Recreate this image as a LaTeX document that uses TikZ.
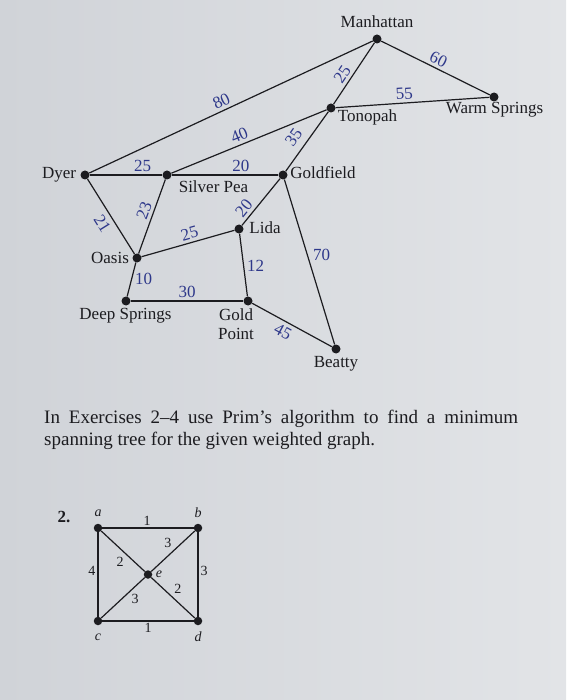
\documentclass[tikz,border=0pt]{standalone}
\usepackage{fontspec}
\setmainfont{Liberation Serif}
\usepackage{xcolor}
\usetikzlibrary{calc}
\usetikzlibrary{positioning}
\definecolor{paperdark}{RGB}{208,211,216}
\definecolor{paperlight}{RGB}{226,228,231}
\definecolor{ink}{RGB}{28,28,32}
\definecolor{pen}{RGB}{46,56,138}

\begin{document}
\begin{tikzpicture}[x=1pt, y=-1pt,
		town/.style={circle, fill=ink, inner sep=0pt, minimum size=9pt},
		townname/.style={font=\fontsize{17}{19}\selectfont, text=ink, inner sep=0pt, text height=11.5pt, text depth=3.5pt},
		wt/.style={font=\fontsize{17}{19}\selectfont, text=pen, inner sep=3pt},
		road/.style={draw=ink, line width=1.2pt},
		vtx/.style={circle, fill=ink, inner sep=0pt, minimum size=8.5pt},
		smallwt/.style={font=\fontsize{14}{16}\selectfont, text=ink, inner sep=2pt},
		vname/.style={font=\fontsize{14}{16}\selectfont\itshape, text=ink, inner sep=0pt}]
	\shade[left color=paperdark, right color=paperlight] (0,0) rectangle (566,700);
	\useasboundingbox (0,0) rectangle (566,700);
	% towns
	\node[town] (dyer) at (85,175) {};
	\node[town] (silver) at (167,175) {};
	\node[town] (goldfield) at (283,175) {};
	\node[town] (manhattan) at (377,39) {};
	\node[town] (tonopah) at (331,108) {};
	\node[town] (warm) at (494,97) {};
	\node[town] (oasis) at (137,258) {};
	\node[town] (lida) at (239,229) {};
	\node[town] (deep) at (126,301) {};
	\node[town] (goldpt) at (248,301) {};
	\node[town] (beatty) at (336,349) {};
	\node[townname] (dyerlbl) at (59,175) {Dyer};
	\node[townname] (silverlbl) at (213.5,189) {Silver Pea};
	\node[townname] (goldfieldlbl) at (323,175) {Goldfield};
	\node[townname] (manhattanlbl) at (377,24) {Manhattan};
	\node[townname] (tonopahlbl) at (367.5,118) {Tonopah};
	\node[townname] (warmlbl) at (494.5,110) {Warm Springs};
	\node[townname] (oasislbl) at (110,259) {Oasis};
	\node[townname] (lidalbl) at (265,230) {Lida};
	\node[townname] (deeplbl) at (125.5,315) {Deep Springs};
	\node[townname, text height=, text depth=, align=center] (goldptlbl) at (236,324.5) {Gold\\Point};
	\node[townname] (beattylbl) at (336,363) {Beatty};
	% roads
	\draw[road] (dyer) -- node[wt, sloped, above, pos=0.48] (w80) {80} (manhattan);
	\draw[road] (silver) -- node[wt, sloped, above, pos=0.46] (w40) {40} (tonopah);
	\draw[road] (dyer) -- node[wt, above, pos=0.73] (w25a) {25} (silver);
	\draw[road] (silver) -- node[wt, above, pos=0.65] (w20a) {20} (goldfield);
	\draw[road] (tonopah) -- node[wt, sloped, above, pos=0.4] (w25b) {25} (manhattan);
	\draw[road] (goldfield) -- node[wt, sloped, above=4pt, pos=0.44] (w35) {35} (tonopah);
	\draw[road] (manhattan) -- node[wt, sloped, above, pos=0.49] (w60) {60} (warm);
	\draw[road] (tonopah) -- node[wt, sloped, above, pos=0.45] (w55) {55} (warm);
	\draw[road] (dyer) -- node[wt, sloped, below=2pt, pos=0.52] (w21) {21} (oasis);
	\draw[road] (oasis) -- node[wt, sloped, above, pos=0.53] (w23) {23} (silver);
	\draw[road] (lida) -- node[wt, sloped, above, pos=0.24] (w20b) {20} (goldfield);
	\draw[road] (oasis) -- node[wt, sloped, above, pos=0.545] (w25c) {25} (lida);
	\draw[road] (oasis) -- node[wt, right, pos=0.49] (w10) {10} (deep);
	\draw[road] (lida) -- node[wt, right, pos=0.51] (w12) {12} (goldpt);
	\draw[road] (deep) -- node[wt, above] (w30) {30} (goldpt);
	\draw[road] (goldpt) -- node[wt, sloped, below=1pt, pos=0.45] (w45) {45} (beatty);
	\draw[road] (goldfield) -- node[wt, right=2pt, pos=0.46] (w70) {70} (beatty);
	% exercise text
	\node[anchor=north west, text width=474pt, align=justify, inner sep=0pt,
		font=\fontsize{19}{22}\selectfont, text=ink] (task) at (44,410)
		{In Exercises 2--4 use Prim’s algorithm to find a minimum\linebreak spanning tree for the given weighted graph.};
	% exercise 2
	\node[font=\fontsize{17}{19}\selectfont\bfseries, text=ink] (num) at (64,517) {2.};
	\node[vtx] (a) at (98,528) {};
	\node[vtx] (b) at (198,528) {};
	\node[vtx] (c) at (98,621) {};
	\node[vtx] (d) at (198,621) {};
	\node[vtx] (e) at (148,574.5) {};
	\node[vname] (alb) at (98,513) {a};
	\node[vname] (blb) at (198,513) {b};
	\node[vname] (clb) at (98,637) {c};
	\node[vname] (dlb) at (198,637) {d};
	\node[vname] (elb) at (159,574) {e};
	\draw[road] (a) -- node[smallwt, above, pos=0.49] (wab) {1} (b);
	\draw[road] (a) -- node[smallwt, left, pos=0.46] (wac) {4} (c);
	\draw[road] (b) -- node[smallwt, right, pos=0.46] (wbd) {3} (d);
	\draw[road] (c) -- node[smallwt, below, pos=0.5] (wcd) {1} (d);
	\draw[road] (a) -- node[smallwt, below left, pos=0.575] (wae) {2} (e);
	\draw[road] (e) -- node[smallwt, above left, pos=0.52] (wbe) {3} (b);
	\draw[road] (e) -- node[smallwt, above right, pos=0.47] (wed) {2} (d);
	\draw[road] (c) -- node[smallwt, below right, pos=0.64] (wce) {3} (e);
\end{tikzpicture}
\end{document}
